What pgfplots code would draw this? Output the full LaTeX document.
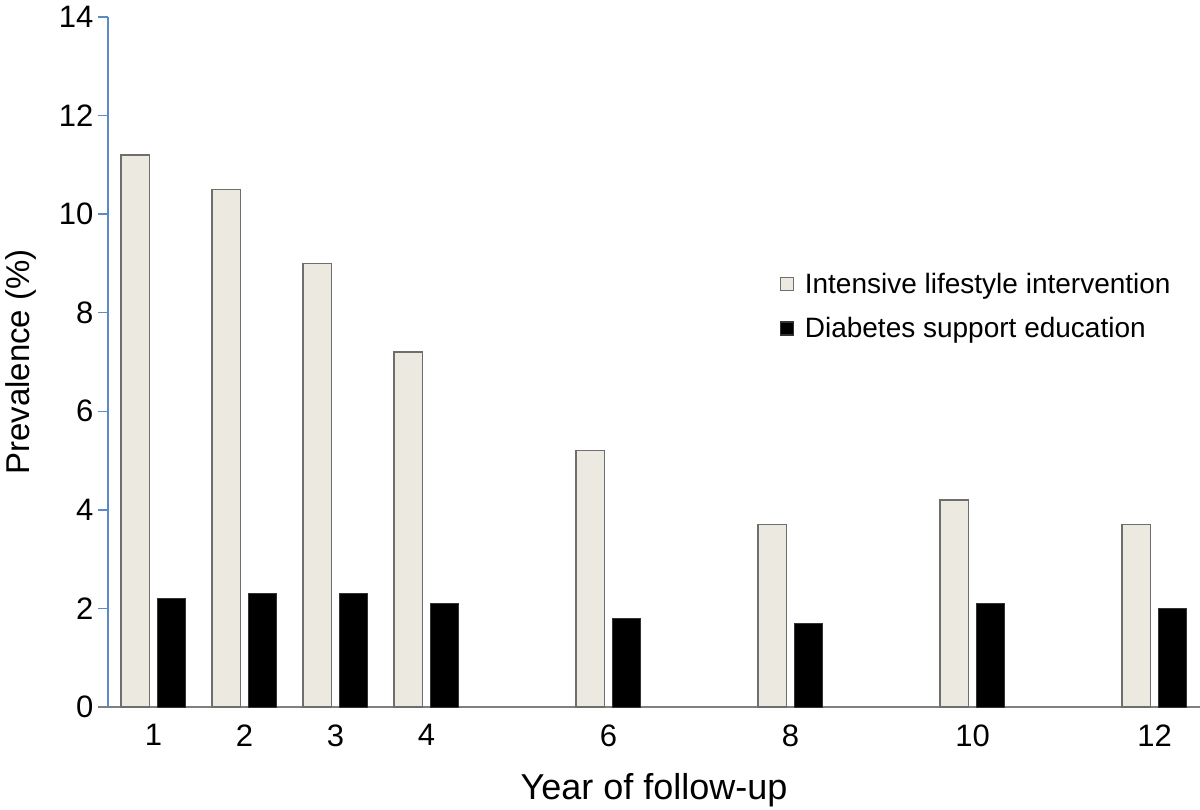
\documentclass[border=0pt]{standalone}
\usepackage{fontspec}
\setmainfont{Liberation Sans}
\usepackage{pgfplots}
\pgfplotsset{compat=1.18}
\definecolor{ilifill}{RGB}{236,234,224}
\definecolor{barline}{RGB}{110,110,110}
\definecolor{axblue}{RGB}{91,138,198}
\begin{document}
\begin{tikzpicture}
\begin{axis}[
  scale only axis,
  width=1092bp, height=690bp,
  xmin=0.5, xmax=12.5,
  ymin=0, ymax=14,
  ytick={0,2,...,14},
  xtick={1,2,3,4,6,8,10,12},
  axis x line*=bottom,
  axis y line*=left,
  x axis line style={draw=gray, line width=1.5bp, -},
  y axis line style={draw=axblue, line width=1.5bp, -},
  xtick style={draw=none},
  ytick style={draw=axblue, line width=1.5bp},
  tick align=outside,
  major tick length=10bp,
  /pgf/number format/assume math mode=true,
  tick label style={font=\fontsize{31bp}{36bp}\selectfont},
  yticklabel style={xshift=-1bp},
  xticklabel style={yshift=-4bp},
  xlabel={Year of follow-up},
  ylabel={Prevalence (\%)},
  label style={font=\fontsize{33bp}{40bp}\selectfont},
  xlabel style={font=\fontsize{36bp}{42bp}\selectfont, yshift=-20bp},
  ylabel style={yshift=16bp},
  ybar=0pt,
  bar width=0.31,
  legend style={draw=none, fill=none, at={(0.612,0.581)}, anchor=west,
    font=\fontsize{28bp}{33bp}\selectfont, row sep=19bp,
    legend cell align=left},
  legend image code/.code={\draw[#1, line width=1.2bp] (0bp,-6.5bp) rectangle (13bp,6.5bp); \path (22bp,0bp);},
]
\addplot[fill=ilifill, draw=barline, line width=1.5bp, bar shift=-0.2]
  coordinates {(1,11.2) (2,10.5) (3,9.0) (4,7.2) (6,5.2) (8,3.7) (10,4.2) (12,3.7)};
\addlegendentry{Intensive lifestyle intervention}
\addplot[fill=black, draw=black!80, line width=0.8bp, bar shift=0.2]
  coordinates {(1,2.2) (2,2.3) (3,2.3) (4,2.1) (6,1.8) (8,1.7) (10,2.1) (12,2.0)};
\addlegendentry{Diabetes support education}
\end{axis}
\draw[gray, line width=1.5bp] ([xshift=-10bp]current axis.south west) -- (current axis.south west);
\pgfresetboundingbox
\path[use as bounding box] ([xshift=-108bp, yshift=-102bp]current axis.south west) rectangle ([yshift=17bp]current axis.north east);
\end{tikzpicture}
\end{document}
